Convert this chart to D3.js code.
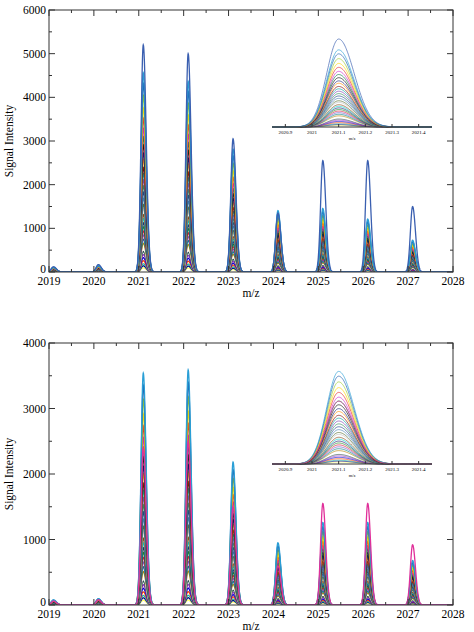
<!DOCTYPE html>
<html><head><meta charset="utf-8">
<script src="https://cdn.jsdelivr.net/npm/d3@7"></script>
<style>body{margin:0;background:#fff}svg{font-family:"Liberation Serif","DejaVu Serif",serif}</style>
</head><body><svg id="c" width="474" height="632"></svg>
<script>
// nominal peak centres (m/z)
const peakCentres = [2019.1, 2020.1, 2021.1, 2022.1, 2023.1, 2024.1, 2025.1, 2026.1, 2027.1];
// top panel: leading trace and the envelope for the remaining traces
const topLead = [120, 170, 5200, 5000, 3050, 1350, 2550, 2550, 1500];
const topRest = [110, 150, 4700, 4500, 2900, 1450, 1500, 1250, 750];
// bottom panel
const botLead = [60, 80, 2400, 2500, 1500, 600, 1550, 1550, 920];
const botRest = [80, 100, 3650, 3700, 2250, 980, 1300, 1300, 700];
// relative size of each remaining trace
const traceFrac = [0.97, 0.92, 0.86, 0.8, 0.75, 0.7, 0.66, 0.62, 0.58, 0.55, 0.51, 0.48, 0.45,
  0.42, 0.39, 0.36, 0.33, 0.31, 0.28, 0.26, 0.24, 0.22, 0.2, 0.18, 0.16, 0.14, 0.12, 0.1,
  0.085, 0.07, 0.055, 0.04, 0.03, 0.02];
const colours = ["#2a9fd6", "#1f5fb0", "#9acd32", "#ffd700", "#e52b2b", "#d02ad0", "#0b7a3e",
  "#111111", "#1a237e", "#ff8c00", "#800000", "#00a0a0", "#7b3fb5", "#2e8b57", "#1e3f8a",
  "#4682b4", "#556b2f", "#c0c0c0", "#8b4513", "#00ced1", "#191970", "#228b22", "#dc143c",
  "#6a5acd", "#008080", "#b8860b", "#ffffff", "#2f4f4f", "#9932cc", "#0000cd", "#ff4500",
  "#20b2aa", "#000080", "#ffff66"];
const xTicks = [2019, 2020, 2021, 2022, 2023, 2024, 2025, 2026, 2027, 2028];
const insetTicks = [2020.9, 2021, 2021.1, 2021.2, 2021.3, 2021.4];

const svg = d3.select("#c");

function profile(heights, x, sig) {
  let y = 0;
  peakCentres.forEach((c, i) => {
    const d = x - c;
    const s = d > 0 ? sig * 1.3 : sig; // slight tailing
    y += heights[i] * Math.exp(-d * d / (2 * s * s));
  });
  return y;
}

function panel(top, bottom, yMax, yTicks, lead, rest, leadColour, inset) {
  const x = d3.scaleLinear().domain([2019, 2028]).range([49, 453]);
  const y = d3.scaleLinear().domain([0, yMax]).range([bottom, top]);
  const g = svg.append("g");
  const xs = d3.range(2019, 2028.0001, 0.004);
  const traces = traceFrac.map((f, i) => ({ h: rest.map(v => v * f), c: colours[i % colours.length] }));
  traces.unshift({ h: lead, c: leadColour });
  const clip = "clip" + top;
  svg.append("clipPath").attr("id", clip).append("rect")
    .attr("x", 49).attr("y", top).attr("width", 404).attr("height", bottom - top);
  const line = d3.line().x(d => x(d[0])).y(d => y(d[1]));
  const lg = g.append("g").attr("clip-path", `url(#${clip})`);
  traces.slice().reverse().forEach(t => {
    lg.append("path").attr("d", line(xs.map(v => [v, profile(t.h, v, 0.05)])))
      .attr("fill", "none").attr("stroke", t.c).attr("stroke-width", 1.3);
  });
  // frame and ticks
  g.append("rect").attr("x", 49).attr("y", top).attr("width", 404).attr("height", bottom - top)
    .attr("fill", "none").attr("stroke", "#333").attr("stroke-width", 1);
  const tk = g.append("g").attr("stroke", "#333");
  xTicks.forEach(v => {
    tk.append("line").attr("x1", x(v)).attr("x2", x(v)).attr("y1", bottom).attr("y2", bottom - 6);
    tk.append("line").attr("x1", x(v)).attr("x2", x(v)).attr("y1", top).attr("y2", top + 6);
    if (v < 2028) {
      const m = x(v + 0.5);
      tk.append("line").attr("x1", m).attr("x2", m).attr("y1", bottom).attr("y2", bottom - 3);
      tk.append("line").attr("x1", m).attr("x2", m).attr("y1", top).attr("y2", top + 3);
    }
  });
  yTicks.forEach(v => {
    tk.append("line").attr("x1", 49).attr("x2", 55).attr("y1", y(v)).attr("y2", y(v));
    tk.append("line").attr("x1", 453).attr("x2", 447).attr("y1", y(v)).attr("y2", y(v));
    if (v < yMax) {
      const m = y(v + 500);
      tk.append("line").attr("x1", 49).attr("x2", 52).attr("y1", m).attr("y2", m);
      tk.append("line").attr("x1", 453).attr("x2", 450).attr("y1", m).attr("y2", m);
    }
  });
  g.selectAll(".xl").data(xTicks).join("text").attr("x", d => x(d)).attr("y", bottom + 13)
    .attr("text-anchor", "middle").attr("font-size", 11.5).text(d => d);
  g.selectAll(".yl").data(yTicks).join("text").attr("x", 46).attr("y", d => y(d) + (d === 0 ? 1 : 4))
    .attr("text-anchor", "end").attr("font-size", 11.5).text(d => d);
  g.append("text").attr("x", 251).attr("y", bottom + 25).attr("text-anchor", "middle")
    .attr("font-size", 11.5).text("m/z");
  g.append("text").attr("transform", `translate(13,${(top + bottom) / 2}) rotate(-90)`)
    .attr("text-anchor", "middle").attr("font-size", 11.5).text("Signal Intensity");

  // inset zoom on the 2021 peak
  const ix = d3.scaleLinear().domain([2020.85, 2021.45]).range([inset.x0, inset.x1]);
  const iyMax = d3.max(traces, t => t.h[2]) * 1.08;
  const iy = d3.scaleLinear().domain([0, iyMax]).range([inset.y1, inset.y0]);
  const ig = g.append("g");
  const ixs = d3.range(2020.85, 2021.45, 0.002);
  const iline = d3.line().x(d => ix(d[0])).y(d => iy(d[1]));
  traces.slice().reverse().forEach(t => {
    ig.append("path").attr("d", iline(ixs.map(v => [v, profile(t.h, v, 0.045)])))
      .attr("fill", "none").attr("stroke", t.c).attr("stroke-width", 0.8).attr("opacity", 0.85);
  });
  ig.append("line").attr("x1", inset.x0).attr("x2", inset.x1).attr("y1", inset.y1).attr("y2", inset.y1)
    .attr("stroke", "#333");
  insetTicks.forEach(v => {
    ig.append("line").attr("x1", ix(v)).attr("x2", ix(v)).attr("y1", inset.y1).attr("y2", inset.y1 - 3)
      .attr("stroke", "#333");
    ig.append("text").attr("x", ix(v)).attr("y", inset.y1 + 7).attr("text-anchor", "middle")
      .attr("font-size", 5).text(v);
  });
  ig.append("text").attr("x", (inset.x0 + inset.x1) / 2).attr("y", inset.y1 + 13)
    .attr("text-anchor", "middle").attr("font-size", 4.5).text("m/z");
}

panel(10, 272, 6000, [0, 1000, 2000, 3000, 4000, 5000, 6000], topLead, topRest, "#3a5fb0",
  { x0: 272, x1: 432, y0: 32, y1: 127 });
panel(343, 605, 4000, [0, 1000, 2000, 3000, 4000], botLead, botRest, "#e0309a",
  { x0: 272, x1: 432, y0: 364, y1: 464 });
</script></body></html>
